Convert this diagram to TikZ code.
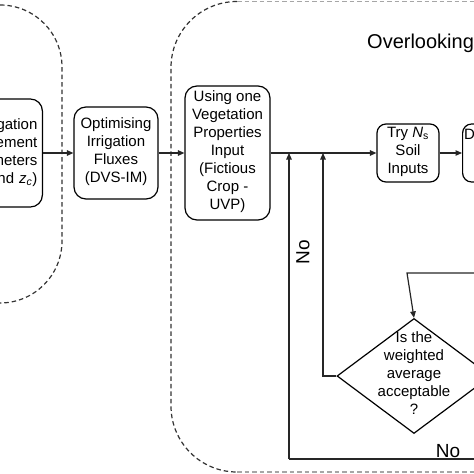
\documentclass[tikz,border=0pt]{standalone}
\usepackage{fontspec}
\setmainfont{Liberation Sans}
\usetikzlibrary{shapes.geometric,arrows.meta}
\begin{document}
\begin{tikzpicture}[x=1pt,y=-1pt,
  txt/.style={font=\fontsize{15}{18}\selectfont, align=center,
    execute at begin node=\strut, execute at end node=\strut},
  box/.style={txt, draw=black, line width=1.2pt, rounded corners=12pt, inner sep=2pt},
  con/.style={draw=black!85, line width=1.2pt},
  arr/.style={con, -{Triangle[length=6.5pt,width=5.5pt]}},
  region/.style={draw=black!80, line width=1.2pt, dash pattern=on 4.5pt off 3pt},
  lab/.style={font=\fontsize{19}{22}\selectfont, inner sep=0pt}
]
\useasboundingbox (0,0) rectangle (474,474);
\clip (0,0) rectangle (474,474);

% dashed regions
\draw[region, rounded corners=62pt] (-30,5) -- (62,5) -- (62,303) -- (-30,303);
\draw[region, rounded corners=66pt] (237,1.5) -- (171,1.5) -- (171,472) -- (237,472);
\draw[region, draw=black!35] (237,1.5) -- (480,1.5);
\draw[region, draw=black!35] (237,472) -- (480,472);

% title
\node[font=\fontsize{20}{24}\selectfont, anchor=base west, inner sep=0pt] (title) at (367,48) {Overlooking};

% boxes
\node[box, anchor=east, minimum width=106pt, minimum height=108pt, inner xsep=5pt,
      text width=96pt, align=right] (lbox) at (43,153)
  {Irrigation\\Management\\Parameters\\(\textit{x}\textsubscript{\textit{r}} and \textit{z}\textsubscript{\textit{c}})};
\node[box, minimum width=84pt, minimum height=92pt] (opt) at (116,153)
  {Optimising\\Irrigation\\Fluxes\\(DVS-IM)};
\node[box, minimum width=85pt, minimum height=134pt] (uvp) at (227.5,153)
  {Using one\\Vegetation\\Properties\\Input\\(Fictious\\Crop -\\UVP)};
\node[box, rounded corners=9pt, minimum width=62pt, minimum height=58pt] (try) at (408,153)
  {Try \textit{N}\textsubscript{s}\\Soil\\Inputs};
\node[draw=black, line width=1.2pt, rounded corners=9pt, anchor=west,
      minimum width=100pt, minimum height=58pt, inner sep=0pt] (dbox) at (462,153) {};
\node[font=\fontsize{15}{18}\selectfont, anchor=base west, inner sep=0pt] (dtext) at (464,139) {D};

% decision
\node[draw=black, line width=1.2pt, shape=diamond, minimum width=154pt, minimum height=115pt,
      inner sep=0pt, label={[txt]center:Is the\\weighted\\average\\acceptable\\?}] (dia) at (414,376) {};

% connectors
\coordinate (j1) at (289,153);
\coordinate (j2) at (323,153);
\coordinate (b1) at (289,459);
\coordinate (b2) at (480,459);
\coordinate (t1) at (480,273);
\coordinate (t2) at (407,273);

\draw[arr] (lbox.east) -- (opt.west);
\draw[arr] (opt.east) -- (uvp.west);
\draw[arr] (uvp.east) -- (try.west);
\draw[arr] (try.east) -- (dbox.west);
\draw[con] (b2) -- (b1);
\draw[arr] (b1) -- (j1);
\draw[arr] (dia.west) -| (j2);
\draw[arr] (t1) -- (t2) -- (dia.north);

% labels
\node[lab, rotate=90] (no1) at (303,252) {No};
\node[lab, anchor=base] (no2) at (448,457) {No};
\end{tikzpicture}
\end{document}
